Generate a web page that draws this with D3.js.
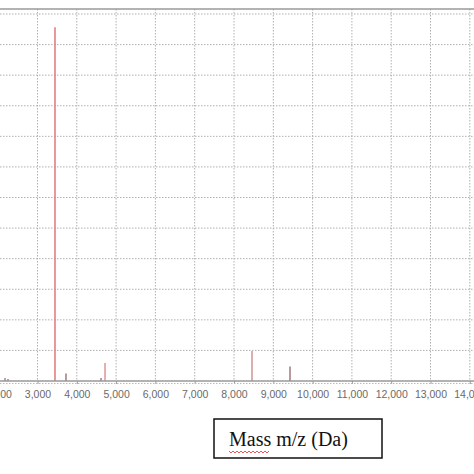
<!DOCTYPE html>
<html>
<head>
<meta charset="utf-8">
<script src="https://cdn.jsdelivr.net/npm/d3@7"></script>
<style>
  body { margin: 0; background: #fff; }
  svg { display: block; }
</style>
</head>
<body>
<div id="chart"></div>
<script>
// peaks (m/z in Da, intensity in arbitrary units)
var masses = [2173, 2249, 3445, 3725, 4616, 4718, 8458, 9425];
var intensities = [100, 65, 11570, 245, 98, 590, 980, 475];
var peakColors = ["#b08a8a", "#b08a8a", "#e08080", "#a88080", "#a08a8a", "#e49a9a", "#d49a9a", "#a88080"];

var xTicks = [2000, 3000, 4000, 5000, 6000, 7000, 8000, 9000, 10000, 11000, 12000, 13000, 14000];
var yTicks = [1000, 2000, 3000, 4000, 5000, 6000, 7000, 8000, 9000, 10000, 11000, 12000];
var axisTitle = "Mass m/z (Da)";

var width = 474,
  height = 474;
var plotTop = 9,
  plotBottom = 381;

var svg = d3
  .select("#chart")
  .append("svg")
  .attr("width", width)
  .attr("height", height);

var x = d3.scaleLinear().domain([2000, 14000]).range([-1.8, 469.8]);
var y = d3.scaleLinear().domain([0, 12000]).range([plotBottom, 14]);

// grid
svg
  .append("g")
  .selectAll("line")
  .data(xTicks)
  .enter()
  .append("line")
  .attr("x1", (d) => x(d))
  .attr("x2", (d) => x(d))
  .attr("y1", plotTop)
  .attr("y2", plotBottom)
  .attr("stroke", "#b0b0b0")
  .style("stroke-width", "1px")
  .style("stroke-dasharray", "1.5,1.5");

svg
  .append("g")
  .selectAll("line")
  .data(yTicks)
  .enter()
  .append("line")
  .attr("x1", 0)
  .attr("x2", width)
  .attr("y1", (d) => y(d))
  .attr("y2", (d) => y(d))
  .attr("stroke", "#b0b0b0")
  .style("stroke-width", "1px")
  .style("stroke-dasharray", "1.5,1.5");

// top frame
svg
  .append("line")
  .attr("x1", 0)
  .attr("x2", width)
  .attr("y1", plotTop)
  .attr("y2", plotTop)
  .attr("stroke", "#9a9a9a")
  .style("stroke-width", "1.5px");

// peaks
svg
  .append("g")
  .selectAll("line")
  .data(masses)
  .enter()
  .append("line")
  .attr("x1", (d) => x(d))
  .attr("x2", (d) => x(d))
  .attr("y1", y(0))
  .attr("y2", (d, i) => y(intensities[i]))
  .attr("stroke", (d, i) => peakColors[i])
  .style("stroke-width", "1.6px");

// bottom axis
var xAxis = d3
  .axisBottom(x)
  .tickValues(xTicks)
  .tickSize(3)
  .tickFormat(d3.format(","));

var gx = svg
  .append("g")
  .attr("transform", "translate(0," + plotBottom + ")")
  .call(xAxis);
gx.select(".domain").remove();
gx.selectAll(".tick line").attr("stroke", "#999");
gx.selectAll(".tick text")
  .attr("y", 10)
  .style("font-family", "'Liberation Sans', Arial, sans-serif")
  .style("font-size", "10.5px")
  .attr("fill", "#6a6a6a");

svg
  .append("line")
  .attr("x1", 0)
  .attr("x2", width)
  .attr("y1", plotBottom)
  .attr("y2", plotBottom)
  .attr("stroke", "#999")
  .style("stroke-width", "1.5px");
svg
  .append("line")
  .attr("x1", 0)
  .attr("x2", width)
  .attr("y1", plotBottom + 2.5)
  .attr("y2", plotBottom + 2.5)
  .attr("stroke", "#bbb")
  .style("stroke-width", "1px")
  .style("stroke-dasharray", "1.5,1.5");

// axis title in a box
svg
  .append("rect")
  .attr("x", 214)
  .attr("y", 419)
  .attr("width", 168)
  .attr("height", 39)
  .attr("fill", "#fff")
  .attr("stroke", "#111")
  .style("stroke-width", "1.5px");

svg
  .append("text")
  .attr("x", 229)
  .attr("y", 446)
  .style("font-family", "'Liberation Serif', 'Times New Roman', serif")
  .style("font-size", "20px")
  .attr("fill", "#111")
  .text(axisTitle);

// spell-check squiggle under "Mass"
var squiggle = d3.path();
squiggle.moveTo(229, 451);
for (var i = 0; i < 20; i++) {
  squiggle.lineTo(231 + i * 2, i % 2 === 0 ? 453 : 451);
}
svg
  .append("path")
  .attr("d", squiggle.toString())
  .attr("fill", "none")
  .attr("stroke", "#e03030")
  .style("stroke-width", "0.8px");
</script>
</body>
</html>
